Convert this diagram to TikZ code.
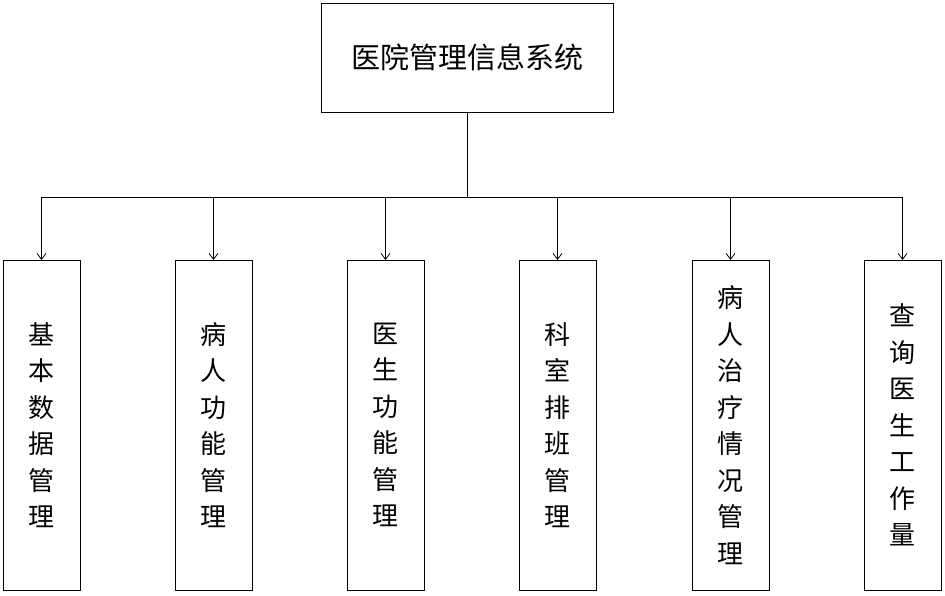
\documentclass[tikz,border=0pt]{standalone}
\usepackage{fontspec}
\setmainfont{Noto Sans CJK SC}
\usetikzlibrary{arrows.meta}
\begin{document}
\begin{tikzpicture}[x=1pt,y=-1pt,
  box/.style={draw,line width=1pt,minimum width=77pt,minimum height=330pt,anchor=north,inner sep=0pt},
  vtext/.style={align=center,font=\fontsize{26}{36.5}\selectfont},
  arr/.style={-{Straight Barb[length=6pt,width=9pt]},line width=0.8pt}]
\useasboundingbox (0,0) rectangle (945,595);
\node[draw,line width=1pt,minimum width=292pt,minimum height=109pt,font=\fontsize{29}{32}\selectfont] (top) at (467,57.5) {医院管理信息系统};
\coordinate (j) at (467,197);
\draw[line width=1pt] (top.south) -- (j);
\foreach \x/\n/\t in {41.5/a/{基\\本\\数\\据\\管\\理},213.5/b/{病\\人\\功\\能\\管\\理},385.5/c/{医\\生\\功\\能\\管\\理},557.5/d/{科\\室\\排\\班\\管\\理},730.5/e/{病\\人\\治\\疗\\情\\况\\管\\理},902.5/f/{查\\询\\医\\生\\工\\作\\量}}{
  \node[box] (\n) at (\x,260) {};
  \node[vtext] at (\x,425) {\t};
  \coordinate (h\n) at (\x,197);
  \draw[arr] (h\n) -- (\n.north);
}
\draw[line width=1pt] (ha) -- (hf);
\end{tikzpicture}
\end{document}
